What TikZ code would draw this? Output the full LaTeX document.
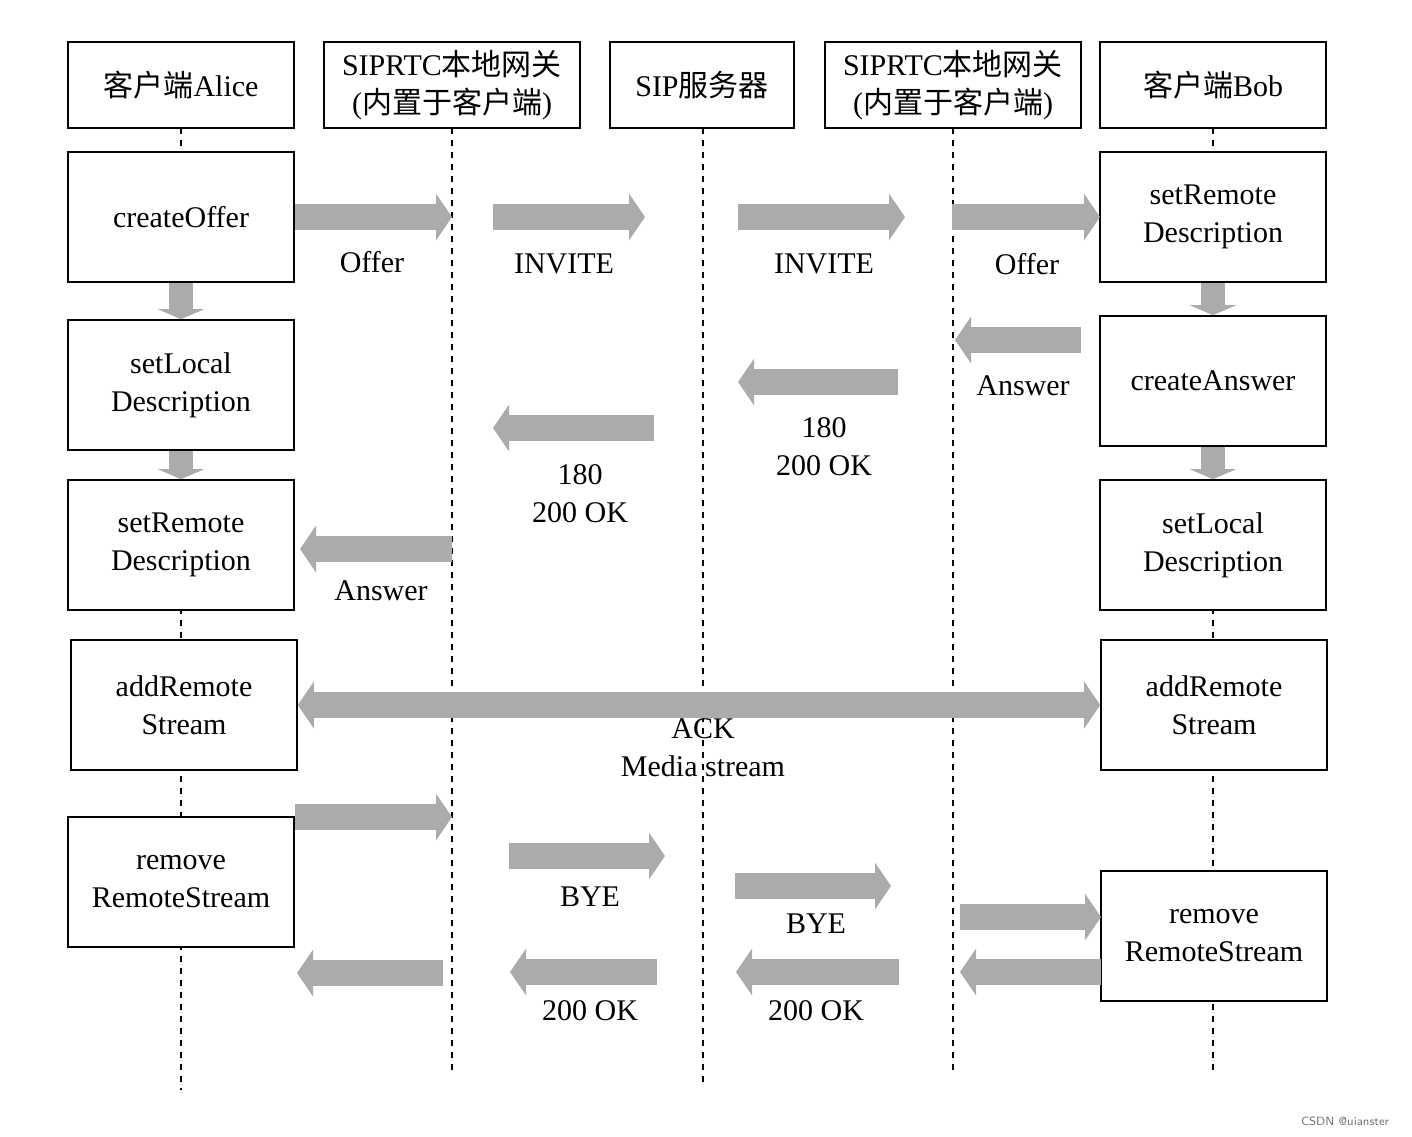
\documentclass[tikz,border=0pt]{standalone}
\usepackage{fontspec}
\setmainfont{Liberation Serif}
\newfontfamily\cjk{Noto Sans CJK SC}
\usetikzlibrary{arrows.meta}
\begin{document}
\begin{tikzpicture}[x=0.5pt,y=-0.5pt,
  box/.style={draw,line width=0.8pt,fill=white,align=center,font=\fontsize{15}{19}\selectfont,inner sep=0pt},
  life/.style={dashed,line width=0.6pt},
  blk/.style={line width=13pt,draw=black!33,-{Triangle[length=8pt,width=23pt]}},
  dbl/.style={line width=13pt,draw=black!33,{Triangle[length=8pt,width=23pt]}-{Triangle[length=8pt,width=23pt]}},
  dn/.style={line width=12pt,draw=black!33,-{Triangle[length=5pt,width=23pt]}},
  lbl/.style={font=\fontsize{15}{19}\selectfont}]
\useasboundingbox (0,0) rectangle (1412,1136);
\fill[white] (0,0) rectangle (1412,1136);
% lifelines
\coordinate (la1) at (181,128); \coordinate (la2) at (181,1090);
\coordinate (lb1) at (452,128); \coordinate (lb2) at (452,1075);
\coordinate (lc1) at (703,128); \coordinate (lc2) at (703,1085);
\coordinate (ld1) at (953,128); \coordinate (ld2) at (953,1075);
\coordinate (le1) at (1213,128); \coordinate (le2) at (1213,1070);
\foreach \a in {a,b,c,d,e} \draw[life] (l\a1) -- (l\a2);
% headers
\node[box,minimum width=113pt,minimum height=43pt] (ha) at (181,85) {{\cjk 客户端}Alice};
\node[box,minimum width=128pt,minimum height=43pt] (hb) at (452,85) {SIPRTC{\cjk 本地网关}\\({\cjk 内置于客户端})};
\node[box,minimum width=92pt,minimum height=43pt] (hc) at (702,85) {SIP{\cjk 服务器}};
\node[box,minimum width=128pt,minimum height=43pt] (hd) at (953,85) {SIPRTC{\cjk 本地网关}\\({\cjk 内置于客户端})};
\node[box,minimum width=113pt,minimum height=43pt] (he) at (1213,85) {{\cjk 客户端}Bob};
% Alice boxes
\tikzset{cb/.style={box,minimum width=113pt,minimum height=65pt}}
\node[cb] (a1) at (181,217) {createOffer};
\node[cb] (a2) at (181,385) {setLocal\\Description};
\node[cb] (a3) at (181,545) {setRemote\\Description};
\node[cb] (a4) at (184,705) {addRemote\\Stream};
\node[cb] (a5) at (181,882) {remove\\RemoteStream};
% Bob boxes
\node[cb] (b1) at (1213,217) {setRemote\\Description};
\node[cb] (b2) at (1213,381) {createAnswer};
\node[cb] (b3) at (1213,545) {setLocal\\Description};
\node[cb] (b4) at (1214,705) {addRemote\\Stream};
\node[cb] (b5) at (1214,936) {remove\\RemoteStream};
% down arrows
\draw[dn] (a1.south) -- (a2.north);
\draw[dn] (a2.south) -- (a3.north);
\draw[dn] (b1.south) -- (b2.north);
\draw[dn] (b2.south) -- (b3.north);
% coordinates for arrows
\coordinate (p1s) at (295,217); \coordinate (p1e) at (452,217);
\coordinate (p2s) at (493,217); \coordinate (p2e) at (645,217);
\coordinate (p3s) at (738,217); \coordinate (p3e) at (905,217);
\coordinate (p4s) at (952,217); \coordinate (p4e) at (1100,217);
\coordinate (p6s) at (1081,340); \coordinate (p6e) at (955,340);
\coordinate (p7s) at (898,382); \coordinate (p7e) at (738,382);
\coordinate (p8s) at (654,428); \coordinate (p8e) at (493,428);
\coordinate (p9s) at (452,549); \coordinate (p9e) at (300,549);
\coordinate (q1s) at (295,817); \coordinate (q1e) at (452,817);
\coordinate (q2s) at (509,856); \coordinate (q2e) at (665,856);
\coordinate (q3s) at (735,886); \coordinate (q3e) at (891,886);
\coordinate (q4s) at (960,917); \coordinate (q4e) at (1101,917);
\coordinate (r1s) at (443,973); \coordinate (r1e) at (297,973);
\coordinate (r2s) at (657,972); \coordinate (r2e) at (510,972);
\coordinate (r3s) at (899,972); \coordinate (r3e) at (736,972);
\coordinate (r4s) at (1101,972); \coordinate (r4e) at (960,972);
\foreach \p in {p1,p2,p3,p4,p6,p7,p8,p9,q1,q2,q3,q4,r1,r2,r3,r4}
  \draw[blk] (\p s) -- (\p e);
\draw[dbl] (a4.east) -- (b4.west);
% labels
\node[lbl] (t1) at (372,262) {Offer};
\node[lbl] (t2) at (564,264) {INVITE};
\node[lbl] (t3) at (824,264) {INVITE};
\node[lbl] (t4) at (1027,264) {Offer};
\node[lbl] (t6) at (1023,386) {Answer};
\node[lbl,align=center] (t7) at (824,447) {180\\200 OK};
\node[lbl,align=center] (t8) at (580,494) {180\\200 OK};
\node[lbl] (t9) at (381,591) {Answer};
\node[lbl,align=center] (t10) at (703,748) {ACK\\Media stream};
\node[lbl] (t12) at (590,897) {BYE};
\node[lbl] (t13) at (816,924) {BYE};
\node[lbl] (t16) at (590,1011) {200 OK};
\node[lbl] (t17) at (816,1011) {200 OK};
\node[font=\fontsize{6}{7}\selectfont\sffamily,text=black!55] (cs) at (1345,1121) {CSDN @uianster};
\end{tikzpicture}
\end{document}
